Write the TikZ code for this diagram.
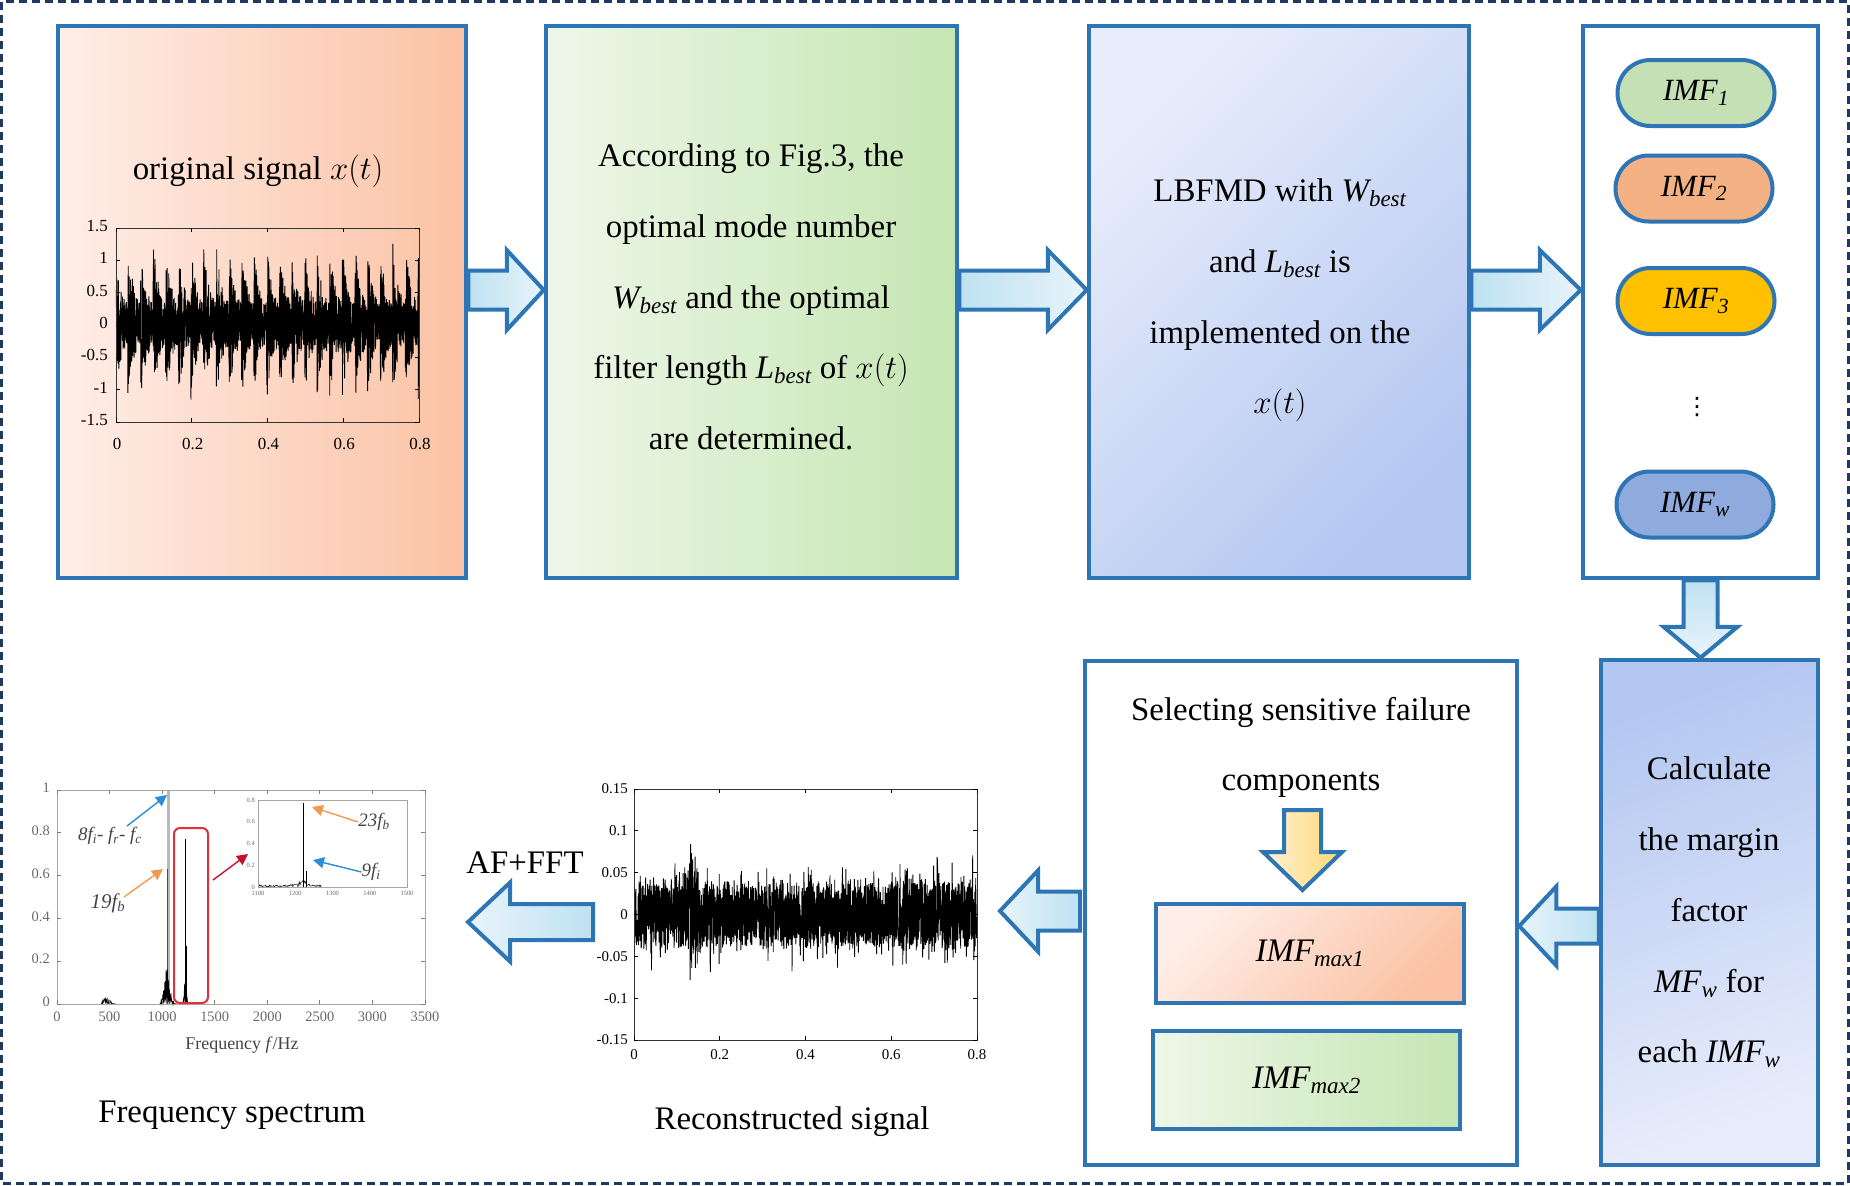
\RequirePackage{fix-cm}
\documentclass[tikz,border=0pt]{standalone}
\usepackage{fontspec}
\setmainfont{Liberation Serif}
\newfontfamily\djv{DejaVu Sans}
\usetikzlibrary{calc,arrows.meta}
\definecolor{bblue}{HTML}{2E75B6}
\definecolor{navy}{HTML}{203864}
\definecolor{oa}{HTML}{FFEEE8}
\definecolor{ob}{HTML}{FBC2A4}
\definecolor{ga}{HTML}{EEF7E9}
\definecolor{gb}{HTML}{C5E6B2}
\definecolor{ba}{HTML}{E8EDFB}
\definecolor{bb}{HTML}{B4C7F1}
\definecolor{ard}{HTML}{BEE1F1}
\definecolor{arl}{HTML}{E8F4FA}
\definecolor{ya}{HTML}{FFF3D8}
\definecolor{yb}{HTML}{FDD872}
\definecolor{pg}{HTML}{C5E0B4}
\definecolor{po}{HTML}{F4B183}
\definecolor{py}{HTML}{FFC000}
\definecolor{pb}{HTML}{8FAADC}
\definecolor{sblue}{HTML}{2B8BDD}
\definecolor{sorange}{HTML}{F29A50}
\definecolor{sred}{HTML}{C8102E}
\definecolor{rbox}{HTML}{E0303A}
\definecolor{txg}{HTML}{444444}
% horizontal block arrow: [opts]{tail}{tip}{shaft half}{head half}{signed head length}
\newcommand\myharrow[6][]{\draw[barrow,#1] let \p1=(#2), \p2=(#3) in
  (\x1,{\y2+(#4)}) -- ({\x2-(#6)},{\y2+(#4)}) -- ({\x2-(#6)},{\y2+(#5)}) -- (\x2,\y2)
  -- ({\x2-(#6)},{\y2-(#5)}) -- ({\x2-(#6)},{\y2-(#4)}) -- (\x1,{\y2-(#4)}) -- cycle;}
% vertical (downward) block arrow
\newcommand\myvarrow[6][]{\draw[barrow,#1] let \p1=(#2), \p2=(#3) in
  ({\x2+(#4)},\y1) -- ({\x2+(#4)},{\y2+(#6)}) -- ({\x2+(#5)},{\y2+(#6)}) -- (\x2,\y2)
  -- ({\x2-(#5)},{\y2+(#6)}) -- ({\x2-(#4)},{\y2+(#6)}) -- ({\x2-(#4)},\y1) -- cycle;}
\begin{document}
\begin{tikzpicture}[x=1bp,y=-1bp,
  boxst/.style={draw=bblue, line width=4.5bp, rectangle, inner sep=0pt},
  txt/.style={font=\fontsize{33}{71}\selectfont, align=center, inner sep=0pt},
  pill/.style={draw=bblue, line width=4bp, rounded corners=33bp, minimum width=157bp,
    minimum height=66bp, inner sep=0pt, font=\fontsize{31}{36}\selectfont},
  barrow/.style={draw=bblue, line width=4bp, line join=miter},
  tkl/.style={font=\fontsize{17}{20}\selectfont, inner sep=0pt},
  tkr/.style={font=\fontsize{15}{18}\selectfont, inner sep=0pt},
  tks/.style={font=\fontsize{14.5}{17}\selectfont, inner sep=0pt, text=txg!80},
  tki/.style={font=\fontsize{6.5}{8}\selectfont, inner sep=0pt, text=txg!80},
  ann/.style={font=\fontsize{19}{22}\selectfont\itshape, inner sep=0pt, text=txg},
  sarr/.style={-{Triangle[length=11bp,width=11bp]}, line width=1.4bp},
  dashborder/.style={draw=navy, line width=2.5bp, dash pattern=on 8bp off 5bp}]
\pgfmathsetseed{7}
\useasboundingbox (0,0) rectangle (1850,1185);
\draw[dashborder] (1.5,1.5) rectangle (1848.5,1183.5);

% ---------- top row boxes ----------
\node[boxst, left color=oa, right color=ob, minimum width=408bp, minimum height=552bp] (b1) at (262,302) {};
\node[boxst, left color=ga, right color=gb, minimum width=411bp, minimum height=552bp] (b2) at (751.5,302) {};
\node[boxst, top color=ba, bottom color=bb, shading angle=45, minimum width=380bp, minimum height=552bp] (b3) at (1279,302) {};
\node[boxst, fill=white, minimum width=235bp, minimum height=552bp] (b4) at (1700.5,302) {};

% ---------- bottom row boxes ----------
\node[boxst, top color=bb, bottom color=ba, shading angle=20, minimum width=217bp, minimum height=505bp] (mf) at (1709.5,912.5) {};
\node[boxst, fill=white, minimum width=432bp, minimum height=504bp] (sel) at (1301,913) {};
\node[boxst, top color=oa, bottom color=ob, shading angle=45, minimum width=308bp, minimum height=99bp,
  font=\fontsize{33}{40}\selectfont] (m1) at (1310,953.5) {\textit{IMF\textsubscript{max1}}};
\node[boxst, left color=ga, right color=gb, minimum width=307bp, minimum height=98bp,
  font=\fontsize{33}{40}\selectfont] (m2) at (1306.5,1080) {\textit{IMF\textsubscript{max2}}};

% ---------- IMF pills ----------
\node[pill, fill=pg] (p1) at (1696,93) {\textit{IMF\textsubscript{1}}};
\node[pill, fill=po] (p2) at (1694,188.5) {\textit{IMF\textsubscript{2}}};
\node[pill, fill=py] (p3) at (1696,301) {\textit{IMF\textsubscript{3}}};
\node[inner sep=0pt, font=\fontsize{24}{26}\selectfont\djv] (dots) at (1697,407) {⋮};
\node[pill, fill=pb] (pw) at (1695,504.5) {\textit{IMF\textsubscript{w}}};

% ---------- texts ----------
\node[txt] (t1) at (258,171) {original signal $x(t)$};
\node[txt] (t2) at (751,297) {According to Fig.3, the\\optimal mode number\\\textit{W\textsubscript{best}} and the optimal\\filter length \textit{L\textsubscript{best}} of $x(t)$\\are determined.};
\node[txt] (t3) at (1280,300.5) {LBFMD with \textit{W\textsubscript{best}}\\and \textit{L\textsubscript{best}} is\\implemented on the\\$x(t)$};
\node[txt] (t4) at (1709,912.5) {Calculate\\the margin\\factor\\\textit{MF\textsubscript{w}} for\\each \textit{IMF\textsubscript{w}}};
\node[txt] (t5) at (1301,747.5) {Selecting sensitive failure\\components};
\node[txt] (lfs) at (232,1115) {Frequency spectrum};
\node[txt] (lrs) at (792,1122) {Reconstructed signal};
\node[txt] (laf) at (525,863) {AF+FFT};

% ---------- block arrows ----------
\myharrow[left color=ard, right color=arl]{b1.east |- 0,290}{b2.west |- 0,290}{19.5bp}{40bp}{37bp}
\myharrow[left color=ard, right color=arl]{b2.east |- 0,290}{b3.west |- 0,290}{19.5bp}{40bp}{39bp}
\myharrow[left color=ard, right color=arl]{b3.east |- 0,290}{b4.west |- 0,290}{19.5bp}{40bp}{41bp}
\myvarrow[top color=ard, bottom color=arl]{b4.south}{b4.south |- mf.north}{17bp}{37bp}{31bp}
\myharrow[left color=arl, right color=ard]{mf.west |- 0,926}{sel.east |- 0,926}{17.5bp}{39.5bp}{-37bp}
\coordinate (a6s) at (1080,911);
\coordinate (a6e) at (1000,911);
\myharrow[left color=arl, right color=ard]{a6s}{a6e}{19.5bp}{40.5bp}{-38bp}
\coordinate (a7s) at (593,922);
\coordinate (a7e) at (468,922);
\myharrow[left color=arl, right color=ard]{a7s}{a7e}{18bp}{39.5bp}{-42bp}
\coordinate (a8s) at (1302.5,810);
\coordinate (a8e) at (1302.5,890);
\myvarrow[left color=ya, right color=yb]{a8s}{a8e}{18.5bp}{39.5bp}{38bp}

% ---------- plot 1: original signal ----------
\begin{scope}[shift={(116,325)}, x=378.75bp, y=64.67bp]
  \draw[black, line width=0.9bp, line join=bevel] plot[domain=0.001:0.799, samples=2200]
    (\x,{rand*(0.24+1.0*exp(-70*mod(\x+0.002,0.0333)))+0.12*rnd*exp(-70*mod(\x+0.002,0.0333))});
\end{scope}
\draw[line width=1bp, draw=black!80] (116,228) rectangle (419,422);
\foreach \j in {0,...,4}{
  \draw[line width=0.8bp] ({116+\j*75.75},422) -- ++(0,-4);
  \draw[line width=0.8bp] ({116+\j*75.75},228) -- ++(0,4);}
\foreach \j in {0,...,6}{
  \draw[line width=0.8bp] (116,{228+\j*32.33}) -- ++(4,0);
  \draw[line width=0.8bp] (419,{228+\j*32.33}) -- ++(-4,0);}
\foreach \v [count=\j from 0] in {1.5,1,0.5,0,-0.5,-1,-1.5}
  \node[tkl, anchor=east] at (108,{226+\j*32.33}) {\v};
\foreach \v [count=\j from 0] in {0,0.2,0.4,0.6,0.8}
  \node[tkl] at ({117+\j*75.75},444) {\v};

% ---------- plot 2: reconstructed signal ----------
\begin{scope}[shift={(634,914.5)}, x=428.75bp, y=836.7bp]
  \draw[black, line width=0.9bp, line join=bevel] plot[domain=0.002:0.799, samples=2400]
    (\x,{0.038*rand+0.04*rand*rnd^3+0.07*rand*exp(-((\x-0.135)/0.012)^2)});
\end{scope}
\draw[line width=1bp, draw=black!80] (634,789) rectangle (977,1040);
\foreach \j in {0,...,4}{
  \draw[line width=0.8bp] ({634+\j*85.75},1040) -- ++(0,-4);
  \draw[line width=0.8bp] ({634+\j*85.75},789) -- ++(0,4);}
\foreach \j in {0,...,6}{
  \draw[line width=0.8bp] (634,{789+\j*41.83}) -- ++(4,0);
  \draw[line width=0.8bp] (977,{789+\j*41.83}) -- ++(-4,0);}
\foreach \v [count=\j from 0] in {0.15,0.1,0.05,0,-0.05,-0.1,-0.15}
  \node[tkr, anchor=east] at (628,{789+\j*41.83}) {\v};
\foreach \v [count=\j from 0] in {0,0.2,0.4,0.6,0.8}
  \node[tkr] at ({634+\j*85.75},1055) {\v};

% ---------- plot 3: frequency spectrum ----------
\begin{scope}[shift={(57,1004)}, x=0.10514bp, y=214bp]
  \draw[gray!55, line width=2.5bp] (1062,0) -- (1062,1);
  \draw[black!70, line width=1.4bp] (1050,0) -- (1050,0.63);
  \draw[black, line width=0.7bp] plot[domain=980:1140, samples=110] (\x,{0.17*rnd*exp(-((\x-1045)/35)^2)});
  \draw[black, line width=0.7bp] plot[domain=1195:1270, samples=60] (\x,{0.15*rnd*exp(-((\x-1222)/14)^2)});
  \draw[black, line width=0.8bp] (1226,0) -- (1226,0.77);
  \draw[black, line width=0.6bp] (1233,0) -- (1233,0.27);
  \draw[black, line width=0.6bp] plot[domain=420:560, samples=50] (\x,{0.035*rnd*exp(-((\x-470)/40)^2)});
\end{scope}
\draw[line width=1bp, draw=gray!70] (57,790) rectangle (425,1004);
\foreach \j in {0,...,7}{
  \draw[line width=0.8bp, gray] ({57+\j*52.57},1004) -- ++(0,-4);
  \draw[line width=0.8bp, gray] ({57+\j*52.57},790) -- ++(0,4);}
\foreach \j in {0,...,5}{
  \draw[line width=0.8bp, gray] (57,{1004-\j*42.8}) -- ++(4,0);
  \draw[line width=0.8bp, gray] (425,{1004-\j*42.8}) -- ++(-4,0);}
\foreach \v [count=\j from 0] in {0,0.2,0.4,0.6,0.8,1}
  \node[tks, anchor=east] at (50,{1002-\j*42.8}) {\v};
\foreach \v [count=\j from 0] in {0,500,1000,1500,2000,2500,3000,3500}
  \node[tks] at ({57+\j*52.57},1017) {\v};
\node[tks, font=\fontsize{18}{20}\selectfont, text=txg] (fxl) at (242,1045) {Frequency \textit{f}/Hz};
% inset
\begin{scope}[shift={(-151.75,887)}, x=0.3725bp, y=108.75bp]
  \draw[black, line width=0.5bp] plot[domain=1100:1270, samples=90] (\x,{0.02*rnd+0.08*rnd*exp(-((\x-1215)/15)^2)});
  \draw[black, line width=0.9bp] (1222,0) -- (1222,0.77);
  \draw[black, line width=0.6bp] (1230,0) -- (1230,0.15);
\end{scope}
\draw[line width=0.8bp, draw=gray!70] (258,800) rectangle (407,887);
\foreach \v [count=\j from 0] in {0,0.2,0.4,0.6,0.8}
  \node[tki, anchor=east] at (255,{887-\j*21.75}) {\v};
\foreach \v [count=\j from 0] in {1100,1200,1300,1400,1500}
  \node[tki] at ({258+\j*37.25},893) {\v};
% red box
\draw[rbox, line width=2bp, rounded corners=6bp] (174,828) rectangle (208,1003);
% annotations
\node[ann] (l8) at (110,836) {8\textit{f\textsubscript{i}}- \textit{f\textsubscript{r}}- \textit{f\textsubscript{c}}};
\node[ann, font=\fontsize{21}{24}\selectfont\itshape] (l19) at (108,903) {19\textit{f\textsubscript{b}}};
\node[ann] (l23) at (374,822) {23\textit{f\textsubscript{b}}};
\node[ann] (l9) at (371,872) {9\textit{f\textsubscript{i}}};
\coordinate (q8) at (167,795);
\coordinate (q19) at (163,869);
\coordinate (qr) at (248,854);
\coordinate (q23) at (312,807);
\coordinate (q9) at (313,860);
\draw[sarr, sblue] (127,826) -- (q8);
\draw[sarr, sorange] (124,897) -- (q19);
\draw[sarr, sred] (213,880) -- (qr);
\draw[sarr, sorange] (l23.west) -- (q23);
\draw[sarr, sblue] (l9.west) -- (q9);
\end{tikzpicture}
\end{document}
